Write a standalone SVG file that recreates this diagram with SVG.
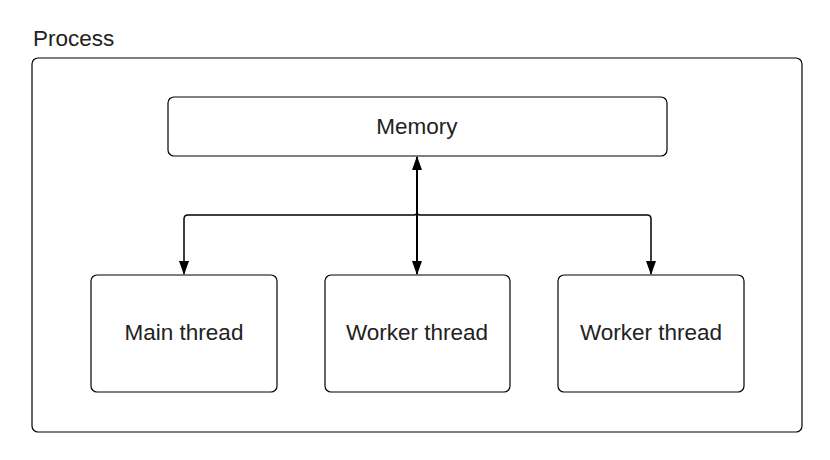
<svg xmlns="http://www.w3.org/2000/svg" width="830" height="460" viewBox="0 0 830 460">
<style>
.b{fill:#fff;stroke:#000;stroke-width:1.2}
.t{font-family:"Liberation Sans",Arial,sans-serif;font-size:22.5px;fill:#222;text-anchor:middle}
.c{fill:none;stroke:#000;stroke-width:1.5}
</style>
<defs>
<marker id="a" markerWidth="14" markerHeight="10" refX="13" refY="5" orient="auto" markerUnits="userSpaceOnUse" viewBox="0 0 14 10"><path d="M0,0 L14,5 L0,10 Z" fill="#000"/></marker>
<marker id="a2" markerWidth="14" markerHeight="10" refX="13" refY="5" orient="auto-start-reverse" markerUnits="userSpaceOnUse" viewBox="0 0 14 10"><path d="M0,0 L14,5 L0,10 Z" fill="#000"/></marker>
</defs>
<g id="process"><rect class="b" x="32" y="58" width="770" height="374" rx="6"/><text class="t" x="33" y="46" style="text-anchor:start">Process</text></g>
<g id="memory"><rect class="b" x="168" y="97" width="499" height="59" rx="6"/><text class="t" x="417" y="134">Memory</text></g>
<g id="main"><rect class="b" x="91" y="275" width="186" height="117" rx="6"/><text class="t" x="184" y="340">Main thread</text></g>
<g id="worker1"><rect class="b" x="325" y="275" width="185" height="117" rx="6"/><text class="t" x="417" y="340">Worker thread</text></g>
<g id="worker2"><rect class="b" x="558" y="275" width="186" height="117" rx="6"/><text class="t" x="651" y="340">Worker thread</text></g>
<g id="connectors">
<path class="c" style="stroke-width:2" d="M417,157 V274" marker-start="url(#a2)" marker-end="url(#a)"/>
<path class="c" d="M414,215 Q417,215 417,212 Q417,215 420,215 H647 Q651,215 651,219 V274" marker-end="url(#a)"/>
<path class="c" d="M414,215 H188 Q184,215 184,219 V274" marker-end="url(#a)"/>
</g>
</svg>
